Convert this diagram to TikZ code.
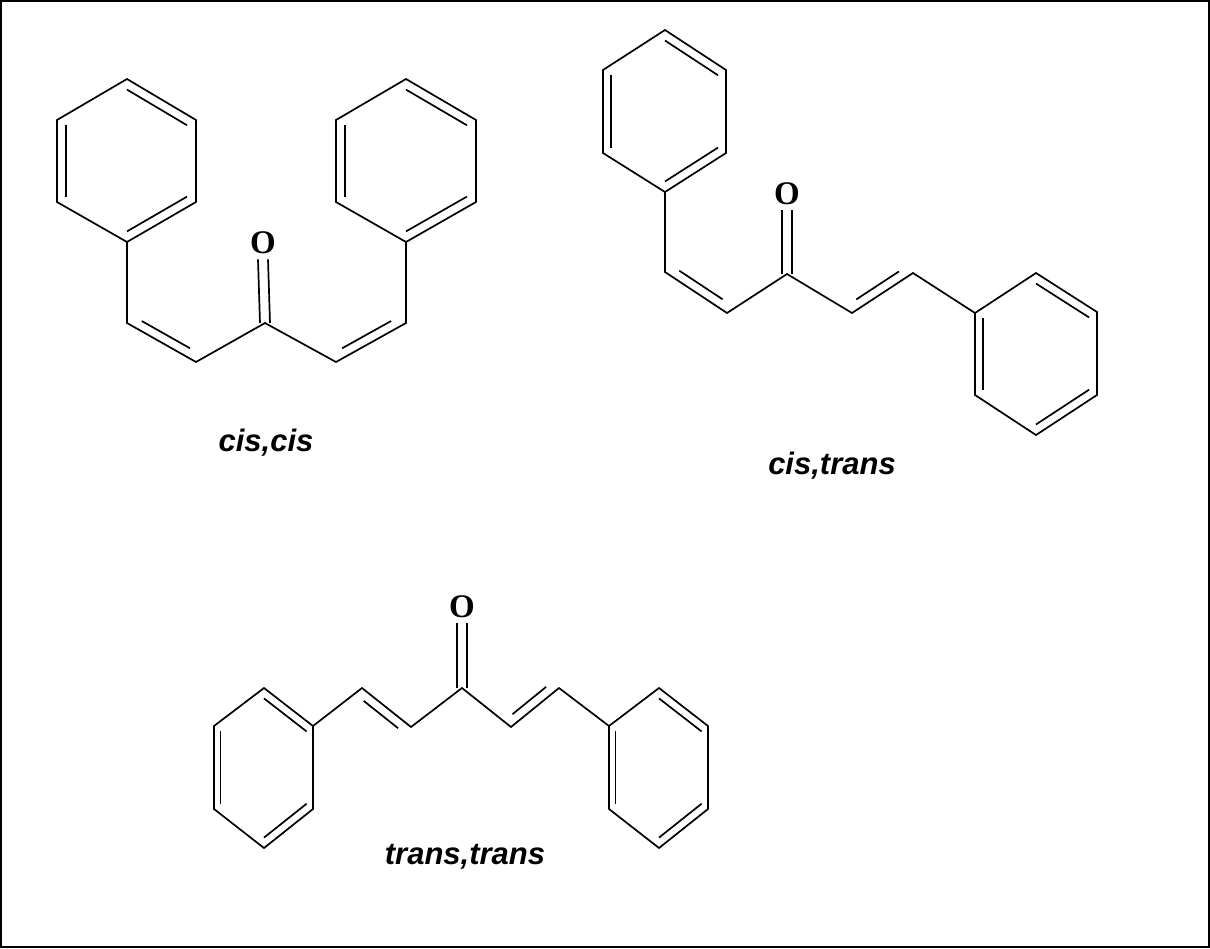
\documentclass[tikz,border=0pt]{standalone}
\usepackage{fontspec}
\setmainfont{Liberation Serif}
\setsansfont{Liberation Sans}
\usetikzlibrary{calc}
\newcommand{\ringin}[3]{\draw[bond] ($(#1)!0.13!(#3)$) -- ($(#2)!0.13!(#3)$);}
\newcommand{\dbin}[3]{\draw[bond] ($(#1)!0.15!(#2)!9pt!#3:(#2)$) -- ($(#2)!0.15!(#1)!9pt!-#3:(#1)$);}
\newcommand{\hexa}[7]{%
 \coordinate (#1a) at #2; \coordinate (#1b) at #3; \coordinate (#1c) at #4;
 \coordinate (#1d) at #5; \coordinate (#1e) at #6; \coordinate (#1f) at #7;
 \coordinate (#1o) at ($(#1a)!0.5!(#1d)$);
 \draw[bond] (#1a)--(#1b)--(#1c)--(#1d)--(#1e)--(#1f)--cycle;}
\begin{document}
\begin{tikzpicture}[x=1pt,y=-1pt,bond/.style={line width=1.7pt},
 oxy/.style={font=\fontsize{33}{35}\selectfont\bfseries,inner sep=0pt},
 lab/.style={font=\sffamily\bfseries\itshape\fontsize{31}{34}\selectfont}]
\useasboundingbox (0,0) rectangle (1210,948);
\draw[line width=1.4pt] (1,1) rectangle (1209,947);
% ---- cis,cis ----
\hexa{L}{(127,79)}{(196,120)}{(196,202)}{(127,242)}{(57,202)}{(57,120)}
\ringin{La}{Lb}{Lo}\ringin{Le}{Lf}{Lo}\ringin{Lc}{Ld}{Lo}
\hexa{R}{(406,79)}{(476,120)}{(476,202)}{(406,242)}{(336,202)}{(336,120)}
\ringin{Ra}{Rb}{Ro}\ringin{Re}{Rf}{Ro}\ringin{Rc}{Rd}{Ro}
\coordinate (c1) at (127,323); \coordinate (c2) at (196,362);
\coordinate (c3) at (265,323); \coordinate (c4) at (336,362); \coordinate (c5) at (406,323);
\node[oxy] (O1) at (263,243) {O};
\draw[bond] (Ld)--(c1)--(c2)--(c3)--(c4)--(c5)--(Rd);
\dbin{c1}{c2}{90}\dbin{c4}{c5}{90}
\draw[bond] ($(c3)+(-5,0)$) -- ($(O1.south)+(-5,5)$);
\draw[bond] ($(c3)+(5,0)$) -- ($(O1.south)+(5,5)$);
\node[lab] (t1) at (266,443) {cis,cis};
% ---- cis,trans ----
\hexa{P}{(665,30)}{(726,70)}{(726,153)}{(665,192)}{(603,153)}{(603,70)}
\ringin{Pa}{Pb}{Po}\ringin{Pe}{Pf}{Po}\ringin{Pc}{Pd}{Po}
\hexa{Q}{(1036,273)}{(1097,312)}{(1097,395)}{(1036,435)}{(975,395)}{(975,313)}
\ringin{Qa}{Qb}{Qo}\ringin{Qe}{Qf}{Qo}\ringin{Qc}{Qd}{Qo}
\coordinate (d1) at (665,272); \coordinate (d2) at (727,313);
\coordinate (d3) at (787,274); \coordinate (d4) at (852,313); \coordinate (d5) at (913,273);
\node[oxy] (O2) at (787,194) {O};
\draw[bond] (Pd)--(d1)--(d2)--(d3)--(d4)--(d5)--(Qf);
\dbin{d1}{d2}{90}\dbin{d4}{d5}{90}
\draw[bond] ($(d3)+(-5,0)$) -- ($(O2.south)+(-5,5)$);
\draw[bond] ($(d3)+(5,0)$) -- ($(O2.south)+(5,5)$);
\node[lab] (t2) at (832,466) {cis,trans};
% ---- trans,trans ----
\hexa{S}{(264,688)}{(313,726)}{(313,809)}{(264,848)}{(214,809)}{(214,726)}
\ringin{Sa}{Sb}{So}\ringin{Se}{Sf}{So}\ringin{Sc}{Sd}{So}
\hexa{T}{(659,688)}{(708,726)}{(708,809)}{(659,848)}{(609,809)}{(609,726)}
\ringin{Ta}{Tb}{To}\ringin{Te}{Tf}{To}\ringin{Tc}{Td}{To}
\coordinate (e1) at (362,688); \coordinate (e2) at (411,727);
\coordinate (e3) at (462,688); \coordinate (e4) at (511,727); \coordinate (e5) at (559,688);
\node[oxy] (O3) at (462,607) {O};
\draw[bond] (Sb)--(e1)--(e2)--(e3)--(e4)--(e5)--(Tf);
\dbin{e1}{e2}{-90}\dbin{e4}{e5}{90}
\draw[bond] ($(e3)+(-5,0)$) -- ($(O3.south)+(-5,5)$);
\draw[bond] ($(e3)+(5,0)$) -- ($(O3.south)+(5,5)$);
\node[lab] (t3) at (465,857) {trans,trans};
\end{tikzpicture}
\end{document}
